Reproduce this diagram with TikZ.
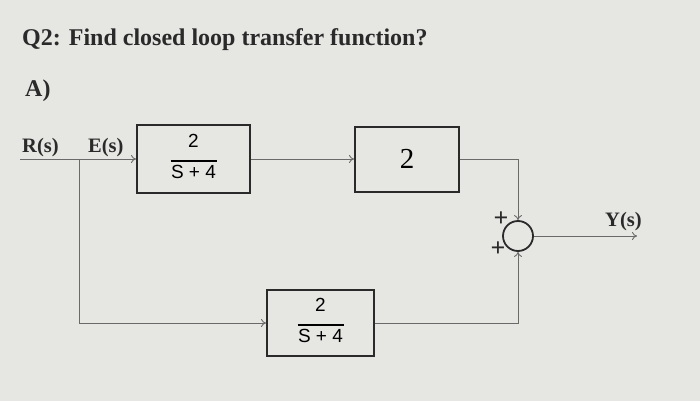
\documentclass[tikz,border=0pt]{standalone}
\usepackage{fontspec}
\setmainfont{Liberation Serif}
\newfontfamily\arialf{Liberation Sans}
\usetikzlibrary{arrows.meta}
\definecolor{bg}{HTML}{E6E6E3}
\definecolor{ink}{HTML}{2A2A2A}
\definecolor{wire}{HTML}{6A6A6A}
\tikzset{
  blk/.style={draw=ink, line width=2pt, fill=bg, inner sep=0pt, font=\arialf\fontsize{19}{21}\selectfont},
  wireline/.style={draw=wire, line width=0.9pt},
  arr/.style={wireline, -{To[length=5pt,width=8pt]}},
  lbl/.style={font=\bfseries\fontsize{20.5}{23}\selectfont, text=ink, inner sep=0pt},
  sumc/.style={circle, draw=ink, line width=1.8pt, minimum size=30pt, inner sep=0pt},
  plus/.style={font=\bfseries\fontsize{26}{26}\selectfont, text=ink, inner sep=0pt},
}
\newcommand{\frc}{$\vcenter{\hbox{\arialf\begin{tabular}{c}2\\[-7pt]\rule{46pt}{1.6pt}\\[-4.5pt]S + 4\end{tabular}}}$}
\begin{document}
\begin{tikzpicture}[x=1pt,y=-1pt]
\fill[bg] (0,0) rectangle (700,401);
\useasboundingbox (0,0) rectangle (700,401);
\node[anchor=base west, font=\bfseries\fontsize{24}{27}\selectfont, text=ink, inner sep=0pt] (title) at (22,46) {Q2: Find closed loop transfer function?};
\node[anchor=base west, font=\bfseries\fontsize{24}{26}\selectfont, text=ink, inner sep=0pt] (parta) at (25,96) {A)};
\node[lbl, anchor=base west] (rs) at (22,152) {R(s)};
\node[lbl, anchor=base west] (es) at (88,152) {E(s)};
\node[lbl, anchor=base west] (ys) at (605,226) {Y(s)};

\node[blk, minimum width=113pt, minimum height=68pt] (b1) at (193.5,159) {\frc};
\node[blk, minimum width=104pt, minimum height=65pt, font=\fontsize{29}{31}\selectfont] (b2) at (407,159) {2};
\node[blk, minimum width=107pt, minimum height=66pt] (b3) at (320.5,323) {\frc};
\node[sumc] (sum) at (518,236) {};
\node[plus] (p1) at (501,219) {+};
\node[plus] (p2) at (498,249) {+};

\coordinate (rin) at (20,159);
\coordinate (br) at (79,159);
\coordinate (yout) at (637,236);

\draw[arr] (rin) -- (b1.west);
\draw[arr] (b1.east) -- (b2.west);
\draw[arr] (b2.east) -| (sum.north);
\draw[arr] (b3.east) -| (sum.south);
\draw[arr] (br) |- (b3.west);
\draw[arr] (sum.east) -- (yout);
\end{tikzpicture}
\end{document}
